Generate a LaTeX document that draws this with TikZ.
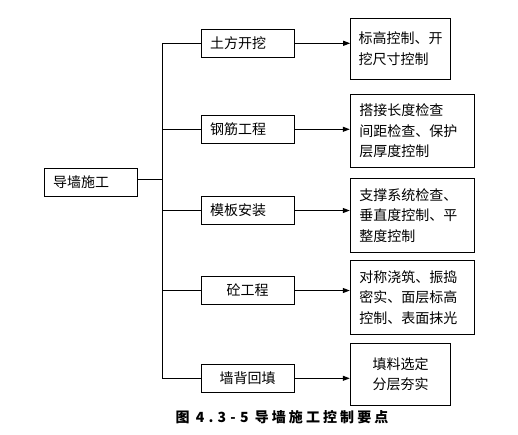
\documentclass[tikz,border=0pt]{standalone}
\usepackage{fontspec}
\setmainfont{Noto Sans CJK SC}
\newfontfamily\capfont[LetterSpace=22]{Noto Sans CJK SC}
\newfontfamily\capnum[LetterSpace=30]{Noto Sans CJK SC}
\usetikzlibrary{arrows.meta}
\tikzset{
  box/.style={draw=black, line width=1pt, rectangle, inner ysep=0pt,
    font=\fontsize{14}{20.5}\selectfont},
  lbox/.style={box, minimum width=93, minimum height=28},
  lboxl/.style={lbox, text width=75, inner xsep=9, align=left},
  rbox/.style={box, minimum width=124, text width=106, inner xsep=9, align=left},
  wire/.style={line width=1pt, draw=black},
  arr/.style={wire, -{Triangle[length=7pt,width=5pt]}}
}
\begin{document}
\begin{tikzpicture}[x=1pt,y=-1pt]
\useasboundingbox (0,0) rectangle (518,434);
% root
\node[lboxl] (root) at (90.5,182) {导墙施工};
% middle boxes
\node[lboxl] (a1) at (247.5,43.3) {土方开挖};
\node[lboxl] (a2) at (247.5,129.3) {钢筋工程};
\node[lboxl] (a3) at (247.5,210.5) {模板安装};
\node[lbox]  (a4) at (247.5,290.5) {砼工程};
\node[lbox]  (a5) at (247.5,378.3) {墙背回填};
% right boxes
\node[rbox, minimum width=100, text width=84, inner xsep=8, minimum height=61] (b1) at (400.7,48.8) {标高控制、开\\挖尺寸控制};
\node[rbox, minimum height=73.4] (b2) at (412.3,131) {搭接长度检查\\间距检查、保护\\层厚度控制};
\node[rbox, minimum height=74] (b3) at (412.3,215.3) {支撑系统检查、\\垂直度控制、平\\整度控制};
\node[rbox, minimum height=74] (b4) at (412.3,297.3) {对称浇筑、振捣\\密实、面层标高\\控制、表面抹光};
\node[rbox, minimum width=100.4, text width=82, align=center, minimum height=62] (b5) at (400.5,374.3) {填料选定\\分层夯实};
% trunk
\coordinate (jt) at (162.5,43.3);
\coordinate (jb) at (162.5,378.3);
\draw[wire] (a1.west) -- (jt) -- (jb) -- (a5.west);
\draw[wire] ([yshift=3pt]root.east) -- ([yshift=3pt]root.east -| jt);
\draw[wire] (a2.west) -- (a2.west -| jt);
\draw[wire] (a3.west) -- (a3.west -| jt);
\draw[wire] (a4.west) -- (a4.west -| jt);
% arrows
\draw[arr] (a1.east) -- (a1.east -| b1.west);
\draw[arr] (a2.east) -- (a2.east -| b2.west);
\draw[arr] (a3.east) -- (a3.east -| b3.west);
\draw[arr] (a4.east) -- (a4.east -| b4.west);
\draw[arr] (a5.east) -- (a5.east -| b5.west);
% caption
\node[font=\fontsize{14}{16}\selectfont\bfseries] (cap) at (282,417) {\capfont 图\ {\capnum 4.3-5}\ 导墙施工控制要点};
\end{tikzpicture}
\end{document}
